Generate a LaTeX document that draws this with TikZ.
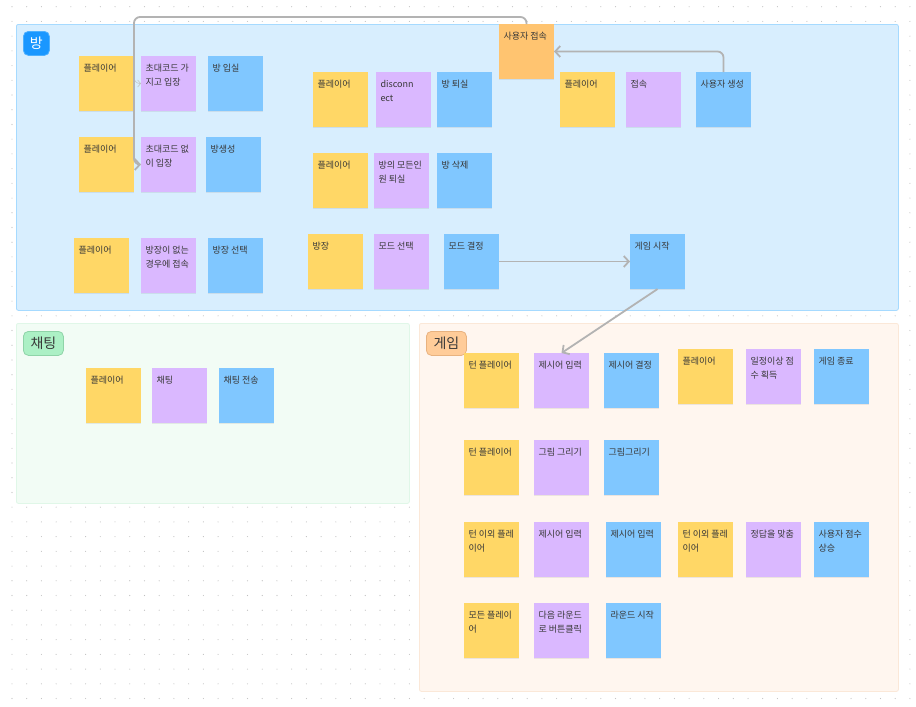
\documentclass[tikz,border=0pt]{standalone}
\usepackage{fontspec}
\setmainfont{Noto Sans CJK KR}
\usetikzlibrary{arrows.meta, positioning, shadows}
\definecolor{noteyellow}{HTML}{FFD766}
\definecolor{notepurple}{HTML}{DAB8FF}
\definecolor{noteblue}{HTML}{80C7FF}
\definecolor{noteorange}{HTML}{FFC470}
\definecolor{flowgray}{HTML}{B3B3B3}
\definecolor{roomfill}{HTML}{D8EEFE}
\definecolor{roomline}{HTML}{A6DAFF}
\definecolor{chatfill}{HTML}{F2FCF5}
\definecolor{chatline}{HTML}{E0F7E8}
\definecolor{gamefill}{HTML}{FFF6EF}
\definecolor{gameline}{HTML}{FBE8D8}
\definecolor{roomtag}{HTML}{1A97FF}
\definecolor{roomtagline}{HTML}{4DB0FF}
\definecolor{chattag}{HTML}{ACF0C5}
\definecolor{chattagline}{HTML}{8FD4A8}
\definecolor{gametag}{HTML}{FFCC99}
\definecolor{gametagline}{HTML}{E8B27F}
\newcommand{\memo}[1]{\parbox[t][47pt][t]{46pt}{\fontsize{9}{14}\selectfont\rule{0pt}{11.5pt}#1}}
\tikzset{
	x=1pt, y=-1pt,
	>={Straight Barb[length=5pt, width=11pt]}, % open chevron heads
	note/.style={inner xsep=4.5pt, inner ysep=4pt, outer sep=0pt, text=black!78, anchor=north west,
		drop shadow={opacity=0.15, shadow xshift=0pt, shadow yshift=-1pt}},
	player/.style={note, fill=noteyellow},
	action/.style={note, fill=notepurple},
	result/.style={note, fill=noteblue},
	entry/.style={note, fill=noteorange},
	area/.style={draw, line width=0.8pt, rounded corners=2pt, anchor=north west},
	badge/.style={draw, line width=0.8pt, rounded corners=5pt, anchor=north west, inner sep=0pt,
		minimum height=24pt, font=\fontsize{14}{14}\selectfont},
	flow/.style={->, draw=flowgray, line width=1.8pt, rounded corners=6pt},
}
\begin{document}
\begin{tikzpicture}
	\useasboundingbox[fill=white] (0,0) rectangle (916,707);
	\foreach \i in {0,...,61}
		\foreach \j in {0,...,47}
			\fill[black!25] (12+14.72*\i,6.7+14.72*\j) circle (0.55pt);

	% areas
	\node[area, draw=roomline, fill=roomfill, minimum width=882pt, minimum height=286pt] (roomarea) at (16,24) {};
	\node[area, draw=chatline, fill=chatfill, minimum width=393pt, minimum height=180pt] (chatarea) at (16,323) {};
	\node[area, draw=gameline, fill=gamefill, minimum width=479pt, minimum height=368pt] (gamearea) at (419,323) {};
	\node[badge, draw=roomtagline, fill=roomtag, text=white, minimum width=26pt] (roombadge) at (23,31) {방};
	\node[badge, draw=chattagline, fill=chattag, text=black!78, minimum width=40pt] (chatbadge) at (23,331) {채팅};
	\node[badge, draw=gametagline, fill=gametag, text=black!78, minimum width=40pt] (gamebadge) at (426,331) {게임};

	% room
	\node[player] (p1) at (79,56) {\memo{플레이어}};
	\node[action, right=7pt of p1] (invite) {\memo{초대코드 가\\지고 입장}};
	\node[result, right=12pt of invite] (enter) {\memo{방 입실}};
	\node[player] (p2) at (79,137) {\memo{플레이어}};
	\node[action, right=7pt of p2] (noinvite) {\memo{초대코드 없\\이 입장}};
	\node[result, right=10pt of noinvite] (create) {\memo{방생성}};
	\node[player] (p3) at (74,238) {\memo{플레이어}};
	\node[action, right=12pt of p3] (nohost) {\memo{방장이 없는\\경우에 접속}};
	\node[result, right=12pt of nohost] (pickhost) {\memo{방장 선택}};
	\node[player] (p4) at (313,72) {\memo{플레이어}};
	\node[action, right=8pt of p4] (disc) {\memo{disconn\\ect}};
	\node[result, right=6pt of disc] (leave) {\memo{방 퇴실}};
	\node[player] (p5) at (313,153) {\memo{플레이어}};
	\node[action, right=6pt of p5] (allleave) {\memo{방의 모든인\\원 퇴실}};
	\node[result, right=8pt of allleave] (remove) {\memo{방 삭제}};
	\node[player] (host) at (308,234) {\memo{방장}};
	\node[action, right=11pt of host] (modepick) {\memo{모드 선택}};
	\node[result, right=15pt of modepick] (modeset) {\memo{모드 결정}};
	\node[result] (start) at (630,234) {\memo{게임 시작}};
	\node[entry] (join) at (499,24) {\memo{사용자 접속}};
	\node[player] (p6) at (560,72) {\memo{플레이어}};
	\node[action, right=11pt of p6] (connect) {\memo{접속}};
	\node[result, right=15pt of connect] (newuser) {\memo{사용자 생성}};

	% chat
	\node[player] (p7) at (86,368) {\memo{플레이어}};
	\node[action, right=11pt of p7] (chat) {\memo{채팅}};
	\node[result, right=12pt of chat] (send) {\memo{채팅 전송}};

	% game
	\node[player] (t1) at (464,353) {\memo{턴 플레이어}};
	\node[action, right=15pt of t1] (wordin) {\memo{제시어 입력}};
	\node[result, right=15pt of wordin] (wordset) {\memo{제시어 결정}};
	\node[player] (p8) at (678,349) {\memo{플레이어}};
	\node[action, right=13pt of p8] (score) {\memo{일정이상 점\\수 획득}};
	\node[result, right=13pt of score] (finish) {\memo{게임 종료}};
	\node[player] (t2) at (464,440) {\memo{턴 플레이어}};
	\node[action, right=15pt of t2] (draw) {\memo{그림 그리기}};
	\node[result, right=15pt of draw] (drawn) {\memo{그림그리기}};
	\node[player] (o1) at (464,522) {\memo{턴 이외 플레\\이어}};
	\node[action, right=15pt of o1] (guess) {\memo{제시어 입력}};
	\node[result, right=17pt of guess] (guessed) {\memo{제시어 입력}};
	\node[player] (o2) at (678,522) {\memo{턴 이외 플레\\이어}};
	\node[action, right=13pt of o2] (correct) {\memo{정답을 맞춤}};
	\node[result, right=13pt of correct] (gain) {\memo{사용자 점수\\상승}};
	\node[player] (all) at (464,603) {\memo{모든 플레이\\어}};
	\node[action, right=15pt of all] (next) {\memo{다음 라운드\\로 버튼클릭}};
	\node[result, right=17pt of next] (round) {\memo{라운드 시작}};

	% connectors
	\coordinate (turn) at (134,17);
	\draw[->, draw=black!25, line width=0.5pt, >={Straight Barb[length=3pt, width=7pt]}, rounded corners=6pt]
		(join.north) |- (turn) |- (invite.west);
	\draw[flow] (join.north) |- (turn) |- (noinvite.west);
	\draw[flow] (newuser.north) |- (join.east);
	\draw[flow] (modeset.east) -- (start.west);
	\draw[flow] (start.south) -- (wordin.north);
\end{tikzpicture}
\end{document}
